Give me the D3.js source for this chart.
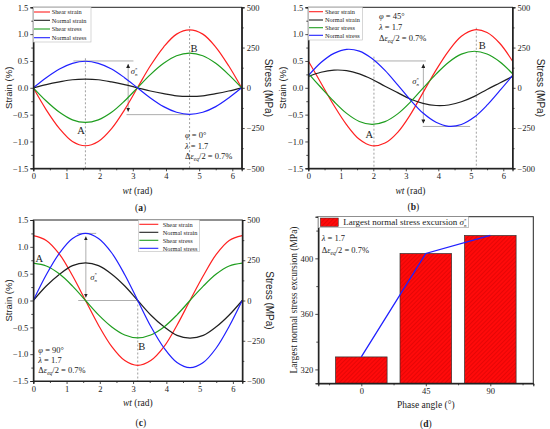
<!DOCTYPE html>
<html><head><meta charset="utf-8">
<script src="https://cdn.jsdelivr.net/npm/d3@7"></script>
<style>body{margin:0;background:#fff} svg{display:block}</style>
</head><body>
<svg id="chart" width="550" height="429"></svg>
<script>
// ---- data ----
const wt = [0, 0.39, 0.79, 1.18, 1.57, 1.96, 2.36, 2.75, 3.14, 3.53, 3.93, 4.32, 4.71, 5.11, 5.50, 5.89, 6.28];
const seriesNames = ["Shear strain", "Normal strain", "Shear stress", "Normal stress"];

// panel (a) phi = 0
const aShearStrain  = [0, -0.41, -0.76, -1.00, -1.08, -1.00, -0.76, -0.41, 0, 0.41, 0.76, 1.00, 1.08, 1.00, 0.76, 0.41, 0];
const aNormalStrain = [0, 0.06, 0.11, 0.15, 0.16, 0.15, 0.11, 0.06, 0, -0.06, -0.11, -0.15, -0.16, -0.15, -0.11, -0.06, 0];
const aShearStress  = [0, -82, -152, -199, -215, -199, -152, -82, 0, 82, 152, 199, 215, 199, 152, 82, 0];
const aNormalStress = [0, 63, 117, 152, 165, 152, 117, 63, 0, -63, -117, -152, -165, -152, -117, -63, 0];

// panel (b) phi = 45
const bShearStrain  = [0.50, 0.09, -0.33, -0.69, -0.96, -1.08, -1.03, -0.83, -0.50, -0.09, 0.33, 0.69, 0.96, 1.08, 1.03, 0.83, 0.50];
const bNormalStrain = [0.21, 0.29, 0.33, 0.32, 0.26, 0.16, 0.03, -0.09, -0.21, -0.29, -0.33, -0.32, -0.26, -0.16, -0.03, 0.09, 0.21];
const bShearStress  = [89, 2, -85, -159, -209, -227, -210, -162, -89, -2, 85, 159, 209, 227, 210, 162, 89];
const bNormalStress = [75, 157, 214, 239, 228, 182, 108, 18, -75, -157, -214, -239, -228, -182, -108, -18, 75];

// panel (c) phi = 90
const cShearStrain  = [1.21, 1.12, 0.86, 0.46, 0, -0.46, -0.86, -1.12, -1.21, -1.12, -0.86, -0.46, 0, 0.46, 0.86, 1.12, 1.21];
const cNormalStrain = [0, 0.27, 0.49, 0.65, 0.70, 0.65, 0.49, 0.27, 0, -0.27, -0.49, -0.65, -0.70, -0.65, -0.49, -0.27, 0];
const cShearStress  = [232, 214, 164, 89, 0, -89, -164, -214, -232, -214, -164, -89, 0, 89, 164, 214, 232];
const cNormalStress = [0, 160, 295, 385, 417, 385, 295, 160, 0, -160, -295, -385, -417, -385, -295, -160, 0];

// panel (d)
const phaseAngles = [0, 45, 90];
const excursion = [329, 403.5, 416.5];

// tick labels
const xTicks = [0, 1, 2, 3, 4, 5, 6];
const strainTicks = [-1.5, -1.0, -0.5, 0.0, 0.5, 1.0, 1.5];
const stressTicks = [-500, -250, 0, 250, 500];
const dXTicks = [0, 45, 90];
const dYTicks = [320, 360, 400];

// ---- drawing ----
const svg = d3.select("#chart");
const SERIF = "'Liberation Serif', 'Times New Roman', serif";
const SANS = "'Liberation Sans', Arial, sans-serif";
const colors = ["#ff2020", "#202020", "#1f9e1f", "#2020ff"];

const defs = svg.append("defs");
const pat = defs.append("pattern").attr("id", "hatch").attr("patternUnits", "userSpaceOnUse")
  .attr("width", 3).attr("height", 3).attr("patternTransform", "rotate(45)");
pat.append("rect").attr("width", 3).attr("height", 3).attr("fill", "#ff0a0a");
pat.append("line").attr("x1", 0).attr("y1", 0).attr("x2", 0).attr("y2", 3).attr("stroke", "#c00000").attr("stroke-width", 0.8);
["up", "down"].forEach(dir => {
  defs.append("marker").attr("id", "arr-" + dir).attr("viewBox", "0 0 6 6").attr("refX", 3).attr("refY", dir === "up" ? 0 : 6)
    .attr("markerWidth", 4).attr("markerHeight", 4).attr("markerUnits", "userSpaceOnUse").attr("orient", "0")
    .append("path").attr("d", dir === "up" ? "M0,6 L3,0 L6,6 Z" : "M0,0 L3,6 L6,0 Z").attr("fill", "#222");
});

function styleAxis(g, size) {
  g.attr("font-family", SERIF);
  g.selectAll("path").attr("stroke", "#222").attr("stroke-width", 1);
  g.selectAll("line").attr("stroke", "#222").attr("stroke-width", 0.8);
  g.selectAll("text").attr("font-family", SERIF).attr("font-size", size).attr("fill", "#222");
}

const panels = [
  { key: "a", box: [33.3, 241.7, 7.3, 168.3], data: [aShearStrain, aNormalStrain, aShearStress, aNormalStress],
    strainTitleX: 8.3, stressTitleX: 268.3, xTitleY: 194, labelY: 210.5,
    legend: { box: [33.3, 91, 7.3, 42], rows: [12, 20.3, 29, 37.7], lx: [34, 50], tx: 51.7 },
    note: { x: 185, ys: [138, 148.7, 158.7], phi: "0°" },
    pts: [["A", 81, 134], ["B", 194, 51.5]],
    dashes: [[1.571, 0.55], [4.712, 1.15]],
    bracket: { top: [0.5, 1.21, 3.02], bot: [-0.5, 2.81, 4.70], vx: 2.86, lab: [2.94, 0.31] } },
  { key: "b", box: [308.3, 512.5, 7.3, 168.3], data: [bShearStrain, bNormalStrain, bShearStress, bNormalStress],
    strainTitleX: 282.3, stressTitleX: 540.7, xTitleY: 194, labelY: 210,
    legend: { box: [308.3, 362.3, 7.3, 40], rows: [11.7, 20, 27.7, 35.3], lx: [309, 323], tx: 325 },
    note: { x: 379, ys: [19, 29.7, 40.7], phi: "45°" },
    pts: [["A", 369.3, 137.5], ["B", 482.3, 48.5]],
    dashes: [[2.02, 0.58], [5.17, 1.12]],
    bracket: { top: [0.5, 2.04, 3.62], bot: [-0.72, 3.52, 4.98], vx: 3.54, lab: [3.2, 0.12] } },
  { key: "c", box: [33.3, 242.3, 220, 381], data: [cShearStrain, cNormalStrain, cShearStress, cNormalStress],
    strainTitleX: 8.3, stressTitleX: 269.3, xTitleY: 406, labelY: 426,
    legend: { box: [138.3, 199.3, 220, 251.7], rows: [224.3, 232.3, 240.3, 248.3], lx: [139.3, 158.3], tx: 162.7 },
    note: { x: 38.3, ys: [353, 363, 373], phi: "90°" },
    pts: [["A", 39.3, 261.8], ["B", 141.7, 350.2]],
    dashes: [[3.14, 0.0]],
    bracket: { top: [1.25, 1.32, 1.89], bot: [0, 1.35, 3.16], vx: 1.58, lab: [1.71, 0.44] } }
];

panels.forEach(p => {
  const [x0, x1, y0, y1] = p.box;
  const g = svg.append("g");
  const xs = d3.scaleLinear().domain([0, 2 * Math.PI]).range([x0, x1]);
  const yL = d3.scaleLinear().domain([-1.5, 1.5]).range([y1, y0]);
  const yR = d3.scaleLinear().domain([-500, 500]).range([y1, y0]);

  // dashed verticals
  p.dashes.forEach(([t, top]) => {
    g.append("line").attr("x1", xs(t)).attr("x2", xs(t)).attr("y1", yL(top)).attr("y2", y1)
      .attr("stroke", "#888").attr("stroke-width", 0.8).attr("stroke-dasharray", "2,2");
  });

  // bracket
  const br = p.bracket;
  [br.top, br.bot].forEach(([v, a, b]) => {
    g.append("line").attr("x1", xs(a)).attr("x2", xs(b)).attr("y1", yL(v)).attr("y2", yL(v))
      .attr("stroke", "#999").attr("stroke-width", 0.8);
  });
  g.append("line").attr("x1", xs(br.vx)).attr("x2", xs(br.vx)).attr("y1", yL(br.top[0]) + 3).attr("y2", yL(br.bot[0]) - 3)
    .attr("stroke", "#999").attr("stroke-width", 0.8)
    .attr("marker-start", "url(#arr-up)").attr("marker-end", "url(#arr-down)");
  const sl = g.append("text").attr("x", xs(br.lab[0])).attr("y", yL(br.lab[1]) + 3)
    .attr("font-family", SERIF).attr("font-size", 8.5).attr("fill", "#222");
  sl.append("tspan").attr("font-style", "italic").text("σ");
  sl.append("tspan").attr("font-size", 5).attr("dy", -3.5).text("*");
  sl.append("tspan").attr("font-size", 5).attr("font-style", "italic").attr("dx", -2.5).attr("dy", 5.5).text("n");

  // curves
  const line = (scale) => d3.line().x((d, i) => xs(wt[i])).y(d => scale(d)).curve(d3.curveCatmullRom.alpha(0.5));
  p.data.forEach((arr, i) => {
    const sc = i < 2 ? yL : yR;
    g.append("path").attr("d", line(sc)(arr)).attr("fill", "none").attr("stroke", colors[i]).attr("stroke-width", 1.2);
  });

  // frame and axes
  g.append("rect").attr("x", x0).attr("y", y0).attr("width", x1 - x0).attr("height", y1 - y0)
    .attr("fill", "none").attr("stroke", "#222").attr("stroke-width", 1);
  const ax = g.append("g").attr("transform", `translate(0,${y1})`)
    .call(d3.axisBottom(xs).tickValues(xTicks).tickSize(3).tickPadding(2).tickFormat(d3.format("d")));
  styleAxis(ax, 8.5);
  const axm = g.append("g").attr("transform", `translate(0,${y1})`)
    .call(d3.axisBottom(xs).tickValues([0.5, 1.5, 2.5, 3.5, 4.5, 5.5]).tickSize(2).tickFormat(""));
  styleAxis(axm, 8.5);
  const al = g.append("g").attr("transform", `translate(${x0},0)`)
    .call(d3.axisLeft(yL).tickValues(strainTicks).tickSize(3).tickPadding(2).tickFormat(d3.format(".1f")));
  styleAxis(al, 8.5);
  const alm = g.append("g").attr("transform", `translate(${x0},0)`)
    .call(d3.axisLeft(yL).tickValues([-1.25, -0.75, -0.25, 0.25, 0.75, 1.25]).tickSize(2).tickFormat(""));
  styleAxis(alm, 8.5);
  const ar = g.append("g").attr("transform", `translate(${x1},0)`)
    .call(d3.axisRight(yR).tickValues(stressTicks).tickSize(3).tickPadding(2).tickFormat(d3.format("d")));
  styleAxis(ar, 8.5);
  const arm = g.append("g").attr("transform", `translate(${x1},0)`)
    .call(d3.axisRight(yR).tickValues([-375, -125, 125, 375]).tickSize(2).tickFormat(""));
  styleAxis(arm, 8.5);

  // titles
  const cy = (y0 + y1) / 2;
  g.append("text").attr("transform", `translate(${p.strainTitleX},${cy}) rotate(-90)`).attr("text-anchor", "middle")
    .attr("dy", "0.35em").attr("font-family", SANS).attr("font-size", 9.5).attr("fill", "#222").text("Strain (%)");
  g.append("text").attr("transform", `translate(${p.stressTitleX},${cy}) rotate(90)`).attr("text-anchor", "middle")
    .attr("dy", "0.35em").attr("font-family", SANS).attr("font-size", 10).attr("fill", "#222").text("Stress (MPa)");
  const xt = g.append("text").attr("x", (x0 + x1) / 2).attr("y", p.xTitleY).attr("text-anchor", "middle")
    .attr("font-family", SERIF).attr("font-size", 9.5).attr("fill", "#222");
  xt.append("tspan").attr("font-style", "italic").text("wt");
  xt.append("tspan").text(" (rad)");
  const pl = g.append("text").attr("x", (x0 + x1) / 2 + 3).attr("y", p.labelY).attr("text-anchor", "middle")
    .attr("font-family", SERIF).attr("font-size", 9.5).attr("fill", "#222");
  pl.append("tspan").text("(");
  pl.append("tspan").attr("font-weight", "bold").text(p.key);
  pl.append("tspan").text(")");

  // legend
  const L = p.legend;
  g.append("rect").attr("x", L.box[0]).attr("y", L.box[2]).attr("width", L.box[1] - L.box[0]).attr("height", L.box[3] - L.box[2])
    .attr("fill", "#fff").attr("stroke", "#bbb").attr("stroke-width", 0.6);
  seriesNames.forEach((nm, i) => {
    g.append("line").attr("x1", L.lx[0]).attr("x2", L.lx[1]).attr("y1", L.rows[i]).attr("y2", L.rows[i])
      .attr("stroke", colors[i]).attr("stroke-width", 1.1);
    g.append("text").attr("x", L.tx).attr("y", L.rows[i]).attr("dy", "0.35em").attr("font-family", SERIF)
      .attr("font-size", 6.3).attr("fill", "#222").text(nm);
  });

  // notes
  const n = p.note;
  const t1 = g.append("text").attr("x", n.x).attr("y", n.ys[0]).attr("font-family", SERIF).attr("font-size", 8.5).attr("fill", "#222");
  t1.append("tspan").attr("font-style", "italic").text("φ");
  t1.append("tspan").text(" = " + n.phi);
  const t2 = g.append("text").attr("x", n.x).attr("y", n.ys[1]).attr("font-family", SERIF).attr("font-size", 8.5).attr("fill", "#222");
  t2.append("tspan").attr("font-style", "italic").text("λ");
  t2.append("tspan").text(" = 1.7");
  const t3 = g.append("text").attr("x", n.x).attr("y", n.ys[2]).attr("font-family", SERIF).attr("font-size", 8.5).attr("fill", "#222");
  t3.append("tspan").text("Δ");
  t3.append("tspan").attr("font-style", "italic").text("ε");
  t3.append("tspan").attr("font-size", 5.5).attr("font-style", "italic").attr("dy", 2).text("eq");
  t3.append("tspan").attr("dy", -2).text("/2 = 0.7%");

  // point labels
  p.pts.forEach(([lab, x, y]) => {
    g.append("text").attr("x", x).attr("y", y).attr("text-anchor", "middle").attr("font-family", SERIF)
      .attr("font-size", 10.5).attr("fill", "#222").text(lab);
  });
});

// ---- panel (d) ----
(function () {
  const [x0, x1, y0, y1] = [318.3, 533.3, 216.7, 383.3];
  const g = svg.append("g");
  const xs = d3.scaleLinear().domain([-30, 120]).range([x0, x1]);
  const ys = d3.scaleLinear().domain([310, 430]).range([y1, y0]);
  const halfW = 18;
  g.selectAll("rect.bar").data(phaseAngles).join("rect").attr("class", "bar")
    .attr("x", d => xs(d - halfW)).attr("width", d => xs(d + halfW) - xs(d - halfW))
    .attr("y", (d, i) => ys(excursion[i])).attr("height", (d, i) => ys(310) - ys(excursion[i]))
    .attr("fill", "url(#hatch)").attr("stroke", "#333").attr("stroke-width", 0.7);
  g.append("path").attr("d", d3.line().x((d, i) => xs(phaseAngles[i])).y(d => ys(d))(excursion))
    .attr("fill", "none").attr("stroke", "#2020ff").attr("stroke-width", 1.3);

  g.append("rect").attr("x", x0).attr("y", y0).attr("width", x1 - x0).attr("height", y1 - y0)
    .attr("fill", "none").attr("stroke", "#222").attr("stroke-width", 1);
  const ax = g.append("g").attr("transform", `translate(0,${y1})`)
    .call(d3.axisBottom(xs).tickValues(dXTicks).tickSize(3).tickPadding(2).tickFormat(d3.format("d")));
  styleAxis(ax, 8.5);
  const axm = g.append("g").attr("transform", `translate(0,${y1})`)
    .call(d3.axisBottom(xs).tickValues([-22.5, 22.5, 67.5, 112.5]).tickSize(2).tickFormat(""));
  styleAxis(axm, 8.5);
  const ay = g.append("g").attr("transform", `translate(${x0},0)`)
    .call(d3.axisLeft(ys).tickValues(dYTicks).tickSize(3).tickPadding(2).tickFormat(d3.format("d")));
  styleAxis(ay, 8.5);
  const aym = g.append("g").attr("transform", `translate(${x0},0)`)
    .call(d3.axisLeft(ys).tickValues([340, 380, 420]).tickSize(2).tickFormat(""));
  styleAxis(aym, 8.5);

  g.append("text").attr("transform", `translate(293.3,${(y0 + y1) / 2}) rotate(-90)`).attr("text-anchor", "middle")
    .attr("dy", "0.35em").attr("font-family", SERIF).attr("font-size", 9.5).attr("fill", "#222")
    .text("Largest normal stress excursion (MPa)");
  g.append("text").attr("x", (x0 + x1) / 2).attr("y", 407.5).attr("text-anchor", "middle")
    .attr("font-family", SERIF).attr("font-size", 9.5).attr("fill", "#222").text("Phase angle (°)");
  const pl = g.append("text").attr("x", (x0 + x1) / 2).attr("y", 426.5).attr("text-anchor", "middle")
    .attr("font-family", SERIF).attr("font-size", 9.5).attr("fill", "#222");
  pl.append("tspan").text("(");
  pl.append("tspan").attr("font-weight", "bold").text("d");
  pl.append("tspan").text(")");

  // legend
  g.append("rect").attr("x", x0).attr("y", y0).attr("width", 150).attr("height", 11)
    .attr("fill", "#fff").attr("stroke", "#999").attr("stroke-width", 0.6);
  g.append("rect").attr("x", 320.3).attr("y", 218).attr("width", 18).attr("height", 8.5)
    .attr("fill", "url(#hatch)").attr("stroke", "#333").attr("stroke-width", 0.5);
  const lt = g.append("text").attr("x", 343.3).attr("y", 225.3).attr("font-family", SERIF).attr("font-size", 9).attr("fill", "#222");
  lt.append("tspan").text("Largest normal stress excursion ");
  lt.append("tspan").attr("font-style", "italic").text("σ");
  lt.append("tspan").attr("font-size", 5).attr("dy", -3.5).text("*");
  lt.append("tspan").attr("font-size", 5).attr("font-style", "italic").attr("dx", -2.5).attr("dy", 5.5).text("n");

  const t2 = g.append("text").attr("x", 321.7).attr("y", 241.3).attr("font-family", SERIF).attr("font-size", 8.5).attr("fill", "#222");
  t2.append("tspan").attr("font-style", "italic").text("λ");
  t2.append("tspan").text(" = 1.7");
  const t3 = g.append("text").attr("x", 321.7).attr("y", 253).attr("font-family", SERIF).attr("font-size", 8.5).attr("fill", "#222");
  t3.append("tspan").text("Δ");
  t3.append("tspan").attr("font-style", "italic").text("ε");
  t3.append("tspan").attr("font-size", 5.5).attr("font-style", "italic").attr("dy", 2).text("eq");
  t3.append("tspan").attr("dy", -2).text("/2 = 0.7%");
})();
</script>
</body></html>
